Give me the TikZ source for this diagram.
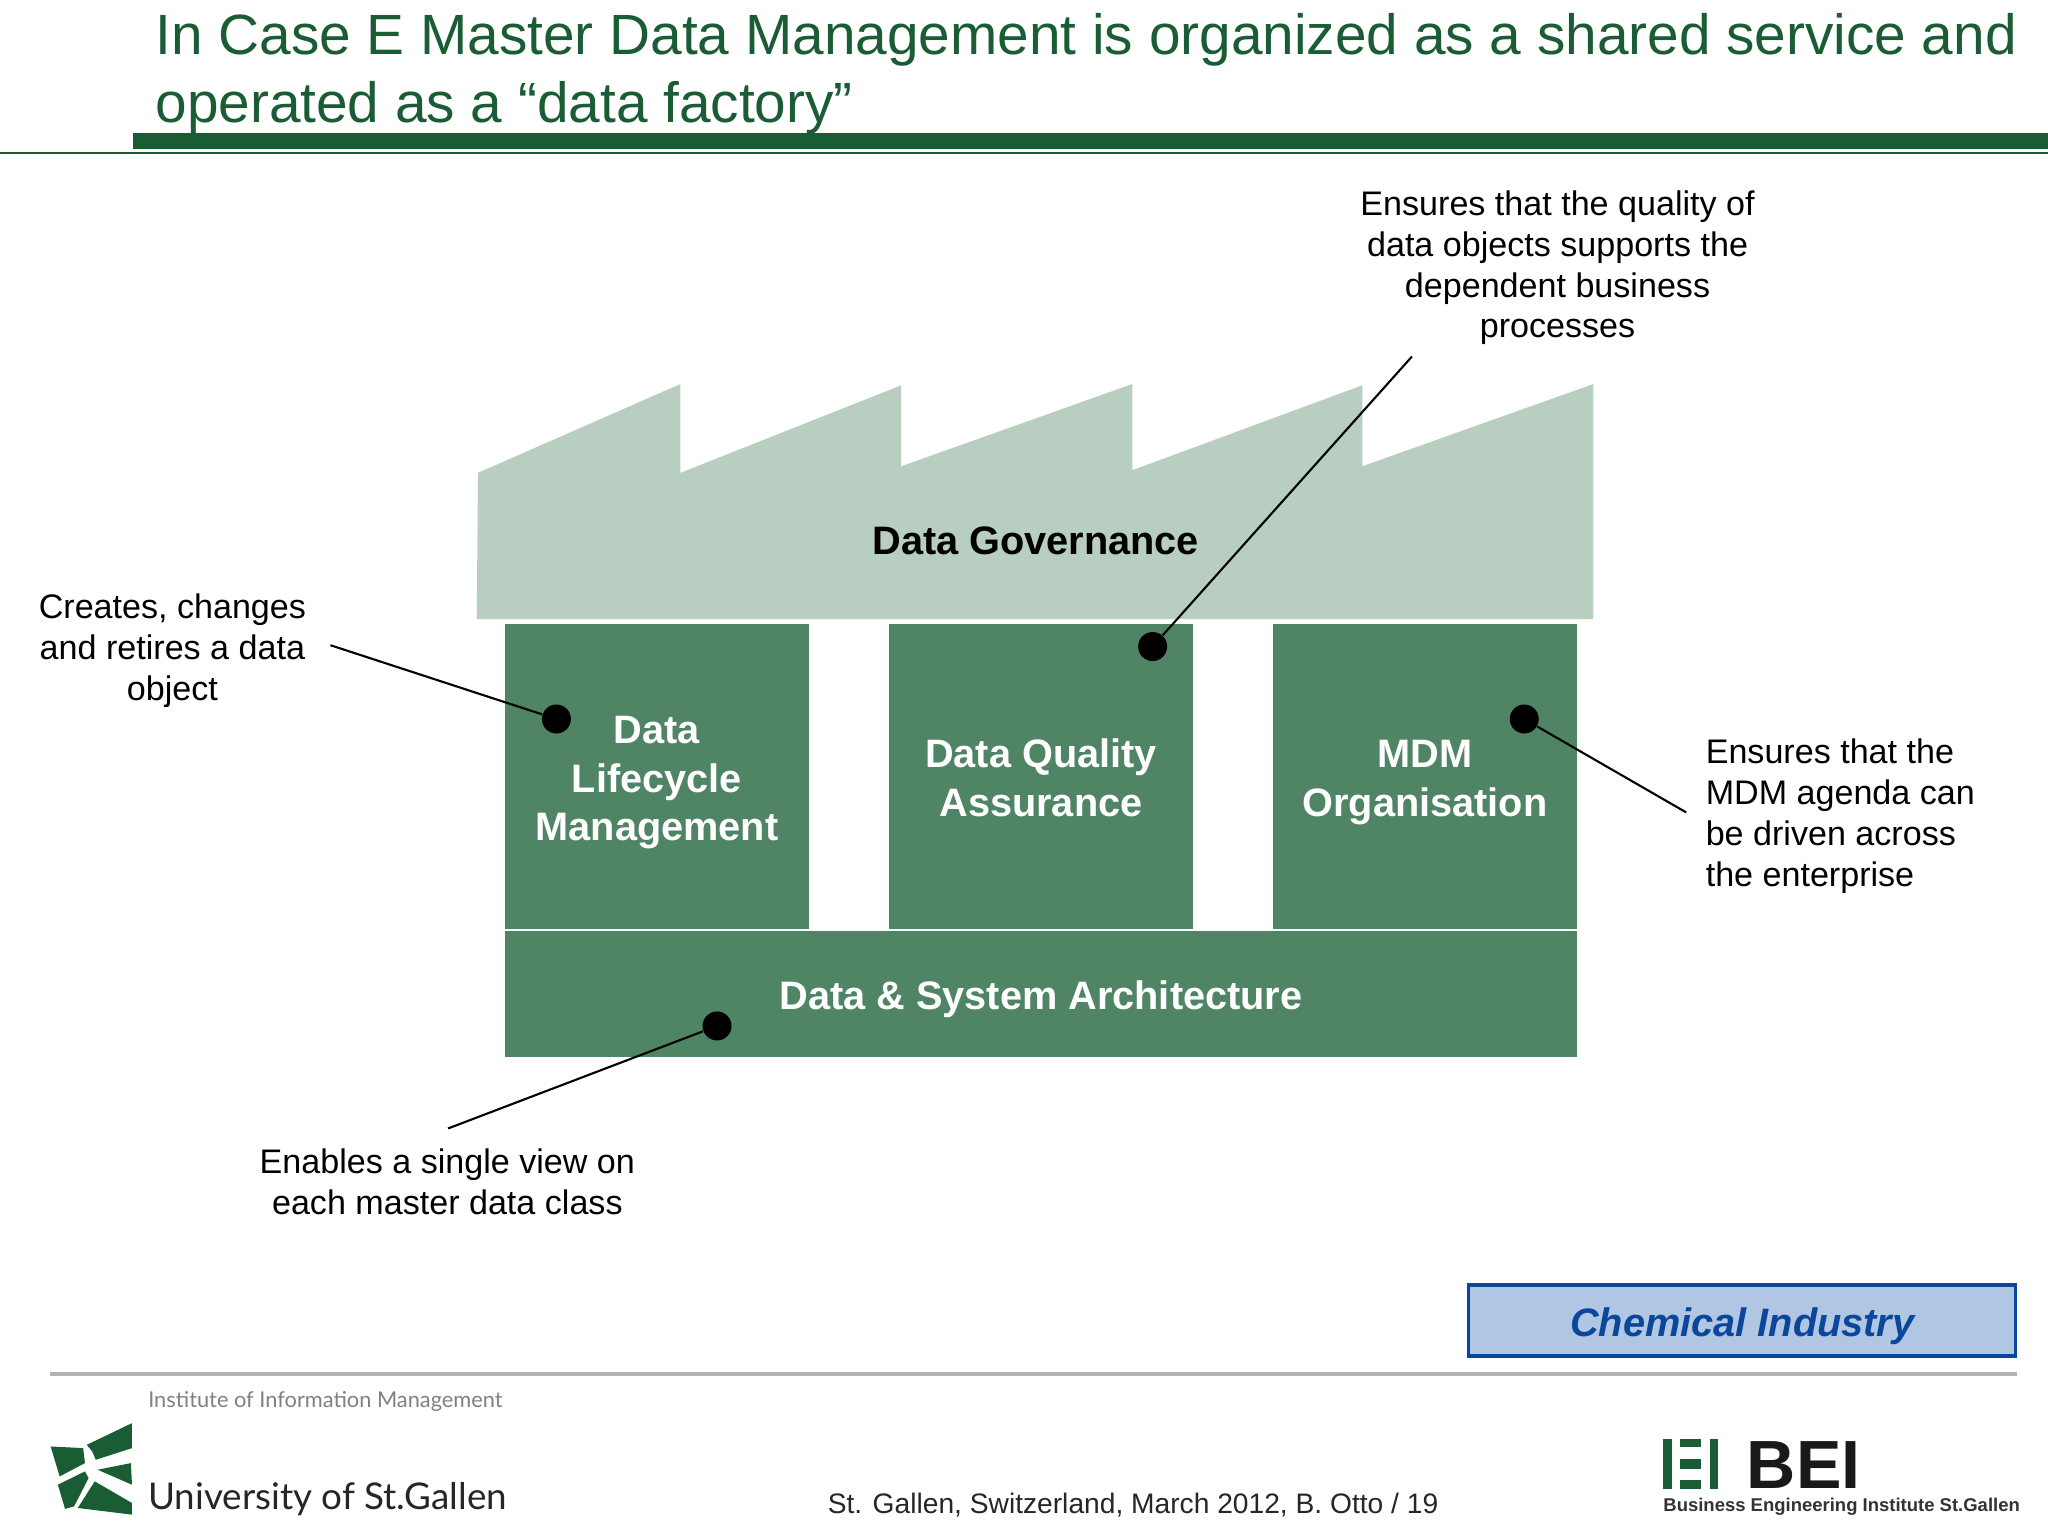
\documentclass[tikz,border=0pt]{standalone}
\usepackage{fontspec}
\setmainfont{Liberation Sans}
\newfontfamily\logofont{Lato}
\usepackage{xcolor}
\usepackage{tikz}
\definecolor{titlegreen}{HTML}{1A5C34}
\definecolor{boxgreen}{HTML}{4F8464}
\definecolor{roofgreen}{HTML}{B8CEC1}
\definecolor{chemfill}{HTML}{B0C6E2}
\definecolor{chemblue}{HTML}{0A479B}
\newcommand{\linetop}{\rule{0pt}{11.5pt}}
\newcommand{\lineend}{\rule[-2.64pt]{0pt}{2.64pt}}
\tikzset{pillar/.style={fill=boxgreen,text=white,font=\fontsize{11.3}{13.75}\selectfont\bfseries,align=center,inner sep=0pt,minimum width=3.043cm,minimum height=3.043cm}}
\tikzset{callout/.style={font=\fontsize{9.7}{11.65}\selectfont,align=center,inner sep=0pt}}
\tikzset{blackdot/.style={circle,fill=black,inner sep=0pt,minimum size=0.29cm}}
\tikzset{leader/.style={draw=black,line width=0.6pt}}

\begin{document}
\begin{tikzpicture}[x=0.013061cm,y=-0.013061cm]
\useasboundingbox (0,0) rectangle (1568,1176);
% title and rules
\fill[titlegreen] (102,102) rectangle (1568,114);
\fill[titlegreen] (0,116.5) rectangle (1568,118);
\node[anchor=north west,inner sep=0pt,text=titlegreen,align=left,font=\fontsize{16.15}{19.3}\selectfont] (title) at (118.5,9.5)
  {In Case E Master Data Management is organized as a shared service and\\operated as a “data factory”};
% factory
\fill[roofgreen] (366,362) -- (521,294) -- (521,362) -- (690,295) -- (690,357) -- (867,294) -- (867,360)
  -- (1043,295) -- (1043,357) -- (1220,294) -- (1220,474) -- (365,474) -- cycle;
\node[font=\fontsize{11.3}{13.75}\selectfont\bfseries,inner sep=0pt] (governance) at (793,414) {Data Governance};
\node[pillar] (lifecycle) at (503,594.5) {\linetop Data\\Lifecycle\\Management\lineend};
\node[pillar] (quality) at (797,594.5) {\linetop Data Quality\\Assurance\lineend};
\node[pillar] (organisation) at (1091,594.5) {\linetop MDM\\Organisation\lineend};
\node[pillar,minimum width=10.723cm,minimum height=1.254cm] (architecture) at (797,761) {\linetop Data \& System Architecture\lineend};
% callouts
\node[callout] (createtext) at (132,498) {Creates, changes\\and retires a data\\object};
\node[callout] (qualitytext) at (1192.5,205) {Ensures that the quality of\\data objects supports the\\dependent business\\processes};
\node[callout,align=left] (agendatext) at (1409,625) {Ensures that the\\MDM agenda can\\be driven across\\the enterprise};
\node[callout] (viewtext) at (342.5,905) {Enables a single view on\\each master data class};
\node[blackdot] (dotlifecycle) at (426,550.5) {};
\node[blackdot] (dotquality) at (882.5,495) {};
\node[blackdot] (dotorganisation) at (1167,550.5) {};
\node[blackdot] (dotarchitecture) at (549,785.5) {};
\coordinate (endlifecycle) at (253,494);
\coordinate (endquality) at (1081,273);
\coordinate (endorganisation) at (1291,622);
\coordinate (endarchitecture) at (343,864);
\draw[leader] (endlifecycle) -- (dotlifecycle);
\draw[leader] (endquality) -- (dotquality);
\draw[leader] (endorganisation) -- (dotorganisation);
\draw[leader] (endarchitecture) -- (dotarchitecture);
% case tag
\node[draw=chemblue,fill=chemfill,line width=0.9pt,minimum width=5.47cm,minimum height=0.71cm,inner sep=0pt,text=chemblue,font=\fontsize{11.3}{13.75}\selectfont\bfseries\itshape] (industry) at (1334,1011) {\linetop Chemical Industry\lineend};
% footer
\draw[black!30,line width=1pt] (38,1052) -- (1544,1052);
\node[font=\fontsize{8.02}{10}\selectfont,inner sep=0pt,text=black!85] (footer) at (867.5,1152) {St. Gallen, Switzerland, March 2012, B. Otto / 19};
\node[anchor=west,inner sep=0pt,text=black!50,font=\logofont\fontsize{6.2}{8}\selectfont] (institute) at (113,1073) {Institute of Information Management};
\node[anchor=base west,inner sep=0pt,text=black!85,font=\logofont\fontsize{10.47}{13}\selectfont] (university) at (113,1156) {University of St.Gallen};
\begin{scope}[shift={(0,1033.6)},x=0.00362cm,y=-0.003333cm]
\fill[titlegreen] (240,285) -- (365,220) -- (365,295) -- (265,330) -- (255,305) -- cycle;
\fill[titlegreen] (140,290) -- (230,295) -- (235,340) -- (165,380) -- cycle;
\fill[titlegreen] (270,360) -- (362,340) -- (365,405) -- cycle;
\fill[titlegreen] (160,405) -- (235,365) -- (245,385) -- (205,470) -- (180,478) -- cycle;
\fill[titlegreen] (215,475) -- (262,395) -- (365,460) -- (365,495) -- cycle;
\end{scope}
\begin{scope}[shift={(1102.6,964.8)},x=0.003878cm,y=-0.003333cm]
\fill[titlegreen] (575,537) rectangle (598,687);
\fill[titlegreen] (620,537) rectangle (672,562);
\fill[titlegreen] (620,597) rectangle (672,627);
\fill[titlegreen] (620,662) rectangle (672,687);
\fill[titlegreen] (697,537) rectangle (718,687);
\end{scope}
\node[anchor=base west,inner sep=0pt,font=\fontsize{19.4}{22}\selectfont\bfseries,text=black!90] (bei) at (1337,1140) {BEI};
\node[anchor=base west,inner sep=0pt,font=\fontsize{5.26}{7}\selectfont\bfseries,text=black!80] (beiname) at (1273,1157) {Business Engineering Institute St.Gallen};
\end{tikzpicture}
\end{document}
